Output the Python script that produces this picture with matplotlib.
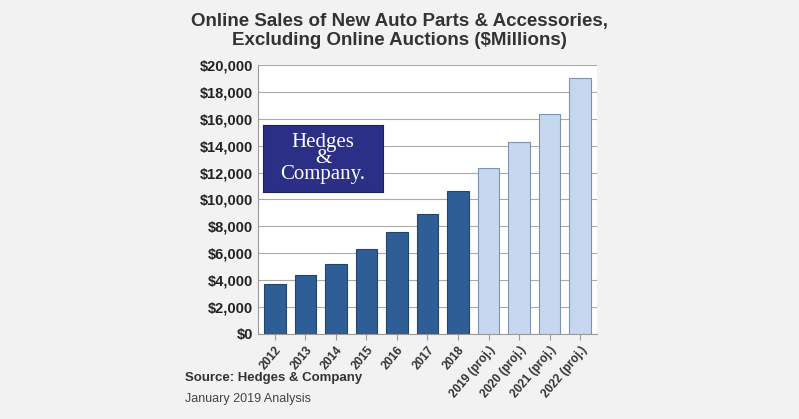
import matplotlib.pyplot as plt
import numpy as np
from matplotlib.ticker import FuncFormatter

years = ['2012', '2013', '2014', '2015', '2016', '2017', '2018',
         '2019 (proj.)', '2020 (proj.)', '2021 (proj.)', '2022 (proj.)']
sales = [3750, 4350, 5200, 6350, 7600, 8900, 10600, 12350, 14250, 16350, 19050]
projected = [False] * 7 + [True] * 4

fig = plt.figure(figsize=(7.99, 4.19), dpi=100)
fig.patch.set_facecolor('#f2f2f2')
ax = fig.add_axes([0.323, 0.203, 0.424, 0.642])

x = np.arange(len(years))
colors = ['#c6d8f0' if p else '#2f5d96' for p in projected]
edges = ['#7f93b0' if p else '#23466f' for p in projected]
ax.bar(x, sales, width=0.7, color=colors, edgecolor=edges, linewidth=0.8, zorder=3)

ax.set_xlim(-0.55, len(years) - 0.45)
ax.set_ylim(0, 20000)
ax.set_yticks(range(0, 20001, 2000))
ax.yaxis.set_major_formatter(FuncFormatter(lambda v, _: f'${int(v):,}'))
ax.grid(axis='y', color='#aaaaaa', linewidth=0.8, zorder=0)
ax.set_facecolor('white')
for s in ['top', 'right']:
    ax.spines[s].set_visible(False)
ax.spines['left'].set_color('#999999')
ax.spines['bottom'].set_color('#999999')
ax.set_xticks(x)
ax.set_xticklabels(years, rotation=50, ha='right', rotation_mode='anchor',
                   fontsize=8.5, fontweight='bold', color='#333333', family='Liberation Sans')
ax.tick_params(axis='y', length=0, labelsize=10.5, labelcolor='#222222')
for lab in ax.get_yticklabels():
    lab.set_fontweight('bold')
    lab.set_family('Liberation Sans')
ax.tick_params(axis='x', length=4, color='#999999')

fig.text(0.5, 0.97, 'Online Sales of New Auto Parts & Accessories,\nExcluding Online Auctions ($Millions)',
         ha='center', va='top', fontsize=13.5, fontweight='bold', color='#333333',
         family='Liberation Sans', linespacing=1.2)
fig.text(0.232, 0.09, 'Source: Hedges & Company', fontsize=9.5, fontweight='bold',
         color='#333333', family='Liberation Sans')
fig.text(0.232, 0.04, 'January 2019 Analysis', fontsize=9, color='#444444',
         family='Liberation Sans')

# logo box
logo = fig.add_axes([263 / 799, 1 - 192 / 419, 120 / 799, 67 / 419])
logo.set_facecolor('#2b2f86')
logo.set_xticks([])
logo.set_yticks([])
for s in logo.spines.values():
    s.set_color('#1e2260')
logo.text(0.5, 0.5, 'Hedges\n&\nCompany.', ha='center', va='center', color='white',
          fontsize=15, family='Liberation Serif', linespacing=0.75, transform=logo.transAxes)

fig.savefig('out.png', dpi=100, facecolor=fig.get_facecolor())
